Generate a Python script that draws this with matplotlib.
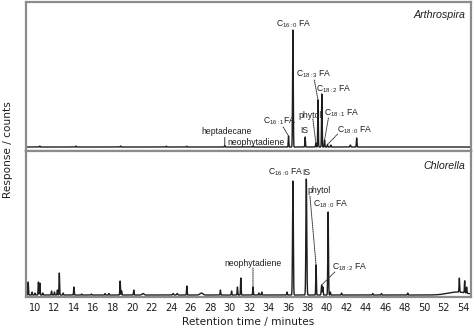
import numpy as np
import matplotlib.pyplot as plt

plt.rcParams['mathtext.fontset'] = 'custom'
plt.rcParams['mathtext.rm'] = 'Liberation Sans'
plt.rcParams['mathtext.it'] = 'Liberation Sans:italic'
plt.rcParams['mathtext.default'] = 'regular'

# peak tables: retention time (min), height (a.u.), width (min)
arth_rt = [10.5, 14.2, 18.8, 23.5, 25.6, 29.5, 32.4, 36.05, 36.5, 37.76, 38.86,
           39.08, 39.47, 39.75, 40.05, 40.4, 42.4, 43.05]
arth_h = [1, 1, 1, 0.8, 0.8, 1.5, 1, 11, 117, 10, 4,
          47, 53, 7, 2.5, 2, 2, 9]
arth_w = [0.03, 0.03, 0.03, 0.03, 0.03, 0.03, 0.03, 0.03, 0.035, 0.03, 0.03,
          0.03, 0.03, 0.03, 0.03, 0.03, 0.04, 0.03]

chl_rt = [9.3, 9.7, 10.0, 10.35, 10.5, 10.8, 11.7, 12.0, 12.3, 12.5, 12.9,
          14.0, 14.8, 15.8, 17.2, 17.6, 18.75, 18.9, 20.15, 21.1, 24.2, 24.6,
          25.6, 27.1, 29.05, 30.2, 30.8, 31.15, 32.4, 33.0, 33.3, 35.9,
          36.5, 37.88, 38.88, 39.45, 39.58, 40.12, 40.35, 41.5, 44.7, 45.6,
          48.3, 53.4, 53.6, 54.15, 54.35]
chl_h = [13, 3, 2, 13, 12, 2, 4, 3, 5, 22, 2,
         8, 1, 1, 1.5, 1.5, 14, 4, 5, 1.5, 1.5, 1.5,
         9, 2, 5, 4, 8, 17, 8, 2, 3, 3,
         114, 116, 30, 10, 8, 83, 3, 2, 1.5, 1.5,
         2, 3, 14, 12, 6]
chl_w = [0.03, 0.03, 0.03, 0.03, 0.03, 0.03, 0.03, 0.03, 0.03, 0.03, 0.03,
         0.03, 0.03, 0.03, 0.03, 0.03, 0.03, 0.03, 0.03, 0.1, 0.05, 0.05,
         0.03, 0.15, 0.03, 0.03, 0.03, 0.03, 0.03, 0.03, 0.03, 0.03,
         0.04, 0.045, 0.03, 0.04, 0.03, 0.035, 0.03, 0.03, 0.03, 0.03,
         0.03, 1.0, 0.03, 0.03, 0.03]

t = np.linspace(9.0, 55.0, 23001)


def trace(rt, h, w):
    y = np.zeros_like(t)
    for r, a, s in zip(rt, h, w):
        y += a * np.exp(-0.5 * ((t - r) / s) ** 2)
    return y


def peak(rt, h, r):
    i = int(np.argmin(np.abs(np.array(rt) - r)))
    return rt[i], h[i]


fig = plt.figure(figsize=(4.74, 3.33), dpi=100)
ax1 = fig.add_axes([0.0549, 0.5465, 0.9388, 0.4475])
ax2 = fig.add_axes([0.0549, 0.108, 0.9388, 0.4385])

ax1.plot(t, trace(arth_rt, arth_h, arth_w), color='#1e1e1e', lw=1.0)
ax2.plot(t, trace(chl_rt, chl_h, chl_w), color='#1e1e1e', lw=1.0)

ax1.set_ylim(-4, 145)
ax2.set_ylim(-2, 144)
for ax in (ax1, ax2):
    ax.set_xlim(9.08, 54.8)
    ax.set_yticks([])
    for sp in ax.spines.values():
        sp.set_color('#8c8c8c')
        sp.set_linewidth(1.6)
ax1.set_xticks([])
ax2.set_xticks(np.arange(10, 55, 2))
ax2.tick_params(axis='x', length=0, pad=4, labelsize=7, colors='#1e1e1e')

fs = 6.2
tk = dict(fontsize=fs, family='Liberation Sans', color='#1e1e1e')
dot = dict(arrowstyle='-', ls=(0, (1, 1)), lw=0.7, color='#333333', shrinkA=0, shrinkB=0)
solid = dict(arrowstyle='-', lw=0.7, color='#333333', shrinkA=0, shrinkB=0)


def lead(ax, start, rt, h, r, props=dot):
    ax.annotate('', xy=peak(rt, h, r), xytext=start, arrowprops=props)


# Arthrospira labels
ax1.text(0.9865, 0.913, 'Arthrospira', transform=ax1.transAxes,
         ha='right', va='center', fontsize=7.7, style='italic',
         family='Liberation Sans', color='#1e1e1e')
ax1.text(36.65, 123, r'C$_{16:0}$ FA', ha='center', va='center', **tk)
ax1.text(36.86, 73.7, r'C$_{18:3}$ FA', ha='left', va='center', **tk)
lead(ax1, (38.7, 67), arth_rt, arth_h, 39.08)
ax1.text(38.89, 58.7, r'C$_{18:2}$ FA', ha='left', va='center', **tk)
ax1.text(38.22, 32, 'phytol', ha='center', va='center', **tk)
lead(ax1, (38.55, 28), arth_rt, arth_h, 38.86)
ax1.text(39.74, 34.7, r'C$_{18:1}$ FA', ha='left', va='center', **tk)
lead(ax1, (40.15, 29), arth_rt, arth_h, 39.75)
ax1.text(37.65, 17, 'IS', ha='center', va='center', **tk)
ax1.text(33.44, 26, r'C$_{16:1}$FA', ha='left', va='center', **tk)
lead(ax1, (35.5, 20), arth_rt, arth_h, 36.05)
ax1.text(40.98, 17.7, r'C$_{18:0}$ FA', ha='left', va='center', **tk)
lead(ax1, (41.1, 13), arth_rt, arth_h, 40.05)
ax1.text(27.07, 15.3, 'heptadecane', ha='left', va='center', **tk)
lead(ax1, (29.5, 9.5), arth_rt, arth_h, 29.5, solid)
ax1.text(29.77, 4.7, 'neophytadiene', ha='left', va='center', **tk)

# Chlorella labels
ax2.text(0.9865, 0.897, 'Chlorella', transform=ax2.transAxes,
         ha='right', va='center', fontsize=7.7, style='italic',
         family='Liberation Sans', color='#1e1e1e')
ax2.text(35.75, 123, r'C$_{16:0}$ FA', ha='center', va='center', **tk)
ax2.text(37.9, 123, 'IS', ha='center', va='center', **tk)
ax2.text(38.04, 104.5, 'phytol', ha='left', va='center', **tk)
lead(ax2, (38.25, 99), chl_rt, chl_h, 38.88)
ax2.text(38.58, 91, r'C$_{18:0}$ FA', ha='left', va='center', **tk)
ax2.text(40.5, 28, r'C$_{18:2}$ FA', ha='left', va='center', **tk)
lead(ax2, (40.8, 23), chl_rt, chl_h, 39.45)
ax2.text(32.41, 32, 'neophytadiene', ha='center', va='center', **tk)
lead(ax2, (32.4, 27), chl_rt, chl_h, 32.4)

ax2.set_xlabel('Retention time / minutes', fontsize=7.6, labelpad=3, color='#1e1e1e')
fig.text(0.017, 0.55, 'Response / counts', rotation=90, ha='center', va='center',
         fontsize=7.6, color='#1e1e1e')

fig.savefig('out.png', dpi=100)
